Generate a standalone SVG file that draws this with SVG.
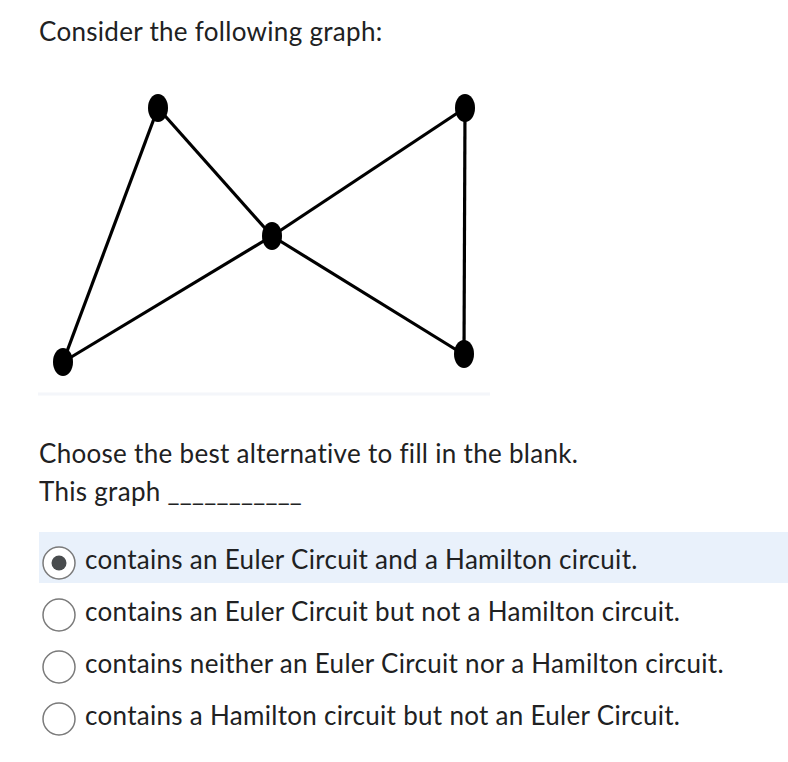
<svg xmlns="http://www.w3.org/2000/svg" width="788" height="762" viewBox="0 0 788 762">
<style>
.t{font-family:Lato,"Open Sans","Liberation Sans",sans-serif;font-size:26px;letter-spacing:0.3px;font-variant-ligatures:none;fill:#202122}
.e{stroke:#000;stroke-width:3.2;fill:none}
.n{fill:#000}
.r{fill:#fff;stroke:#7a7a7a;stroke-width:1.5}
</style>
<rect width="788" height="762" fill="#fff"/>
<text class="t" x="39" y="41">Consider the following graph:</text>
<line x1="38" y1="394" x2="490" y2="394" stroke="#f4f6fa" stroke-width="3"/>
<g id="connectors">
<line class="e" x1="158" y1="108" x2="272" y2="236"/>
<line class="e" x1="158" y1="108" x2="63" y2="362"/>
<line class="e" x1="63" y1="362" x2="272" y2="236"/>
<line class="e" x1="272" y1="236" x2="465" y2="108"/>
<line class="e" x1="272" y1="236" x2="463" y2="354"/>
<line class="e" x1="465" y1="108" x2="464" y2="354"/>
</g>
<g id="n1"><ellipse class="n" cx="158" cy="108" rx="10" ry="14"/></g>
<g id="n2"><ellipse class="n" cx="465" cy="108" rx="10" ry="14"/></g>
<g id="n3"><ellipse class="n" cx="272" cy="236" rx="10" ry="14"/></g>
<g id="n4"><ellipse class="n" cx="63" cy="362" rx="10" ry="14"/></g>
<g id="n5"><ellipse class="n" cx="464" cy="354" rx="10" ry="14"/></g>
<text class="t" x="39" y="463">Choose the best alternative to fill in the blank.</text>
<text class="t" x="39" y="501">This graph ___________</text>
<rect x="39" y="532" width="749" height="51" fill="#e9f1fb"/>
<g id="opt1"><circle class="r" cx="59" cy="563" r="16" stroke="#666"/><circle cx="59" cy="563" r="7.5" fill="#494c4e"/><text class="t" x="85" y="569">contains an Euler Circuit and a Hamilton circuit.</text></g>
<g id="opt2"><circle class="r" cx="59" cy="615" r="16"/><text class="t" x="85" y="621">contains an Euler Circuit but not a Hamilton circuit.</text></g>
<g id="opt3"><circle class="r" cx="59" cy="667" r="16"/><text class="t" x="85" y="673">contains neither an Euler Circuit nor a Hamilton circuit.</text></g>
<g id="opt4"><circle class="r" cx="59" cy="719" r="16"/><text class="t" x="85" y="725">contains a Hamilton circuit but not an Euler Circuit.</text></g>
</svg>
